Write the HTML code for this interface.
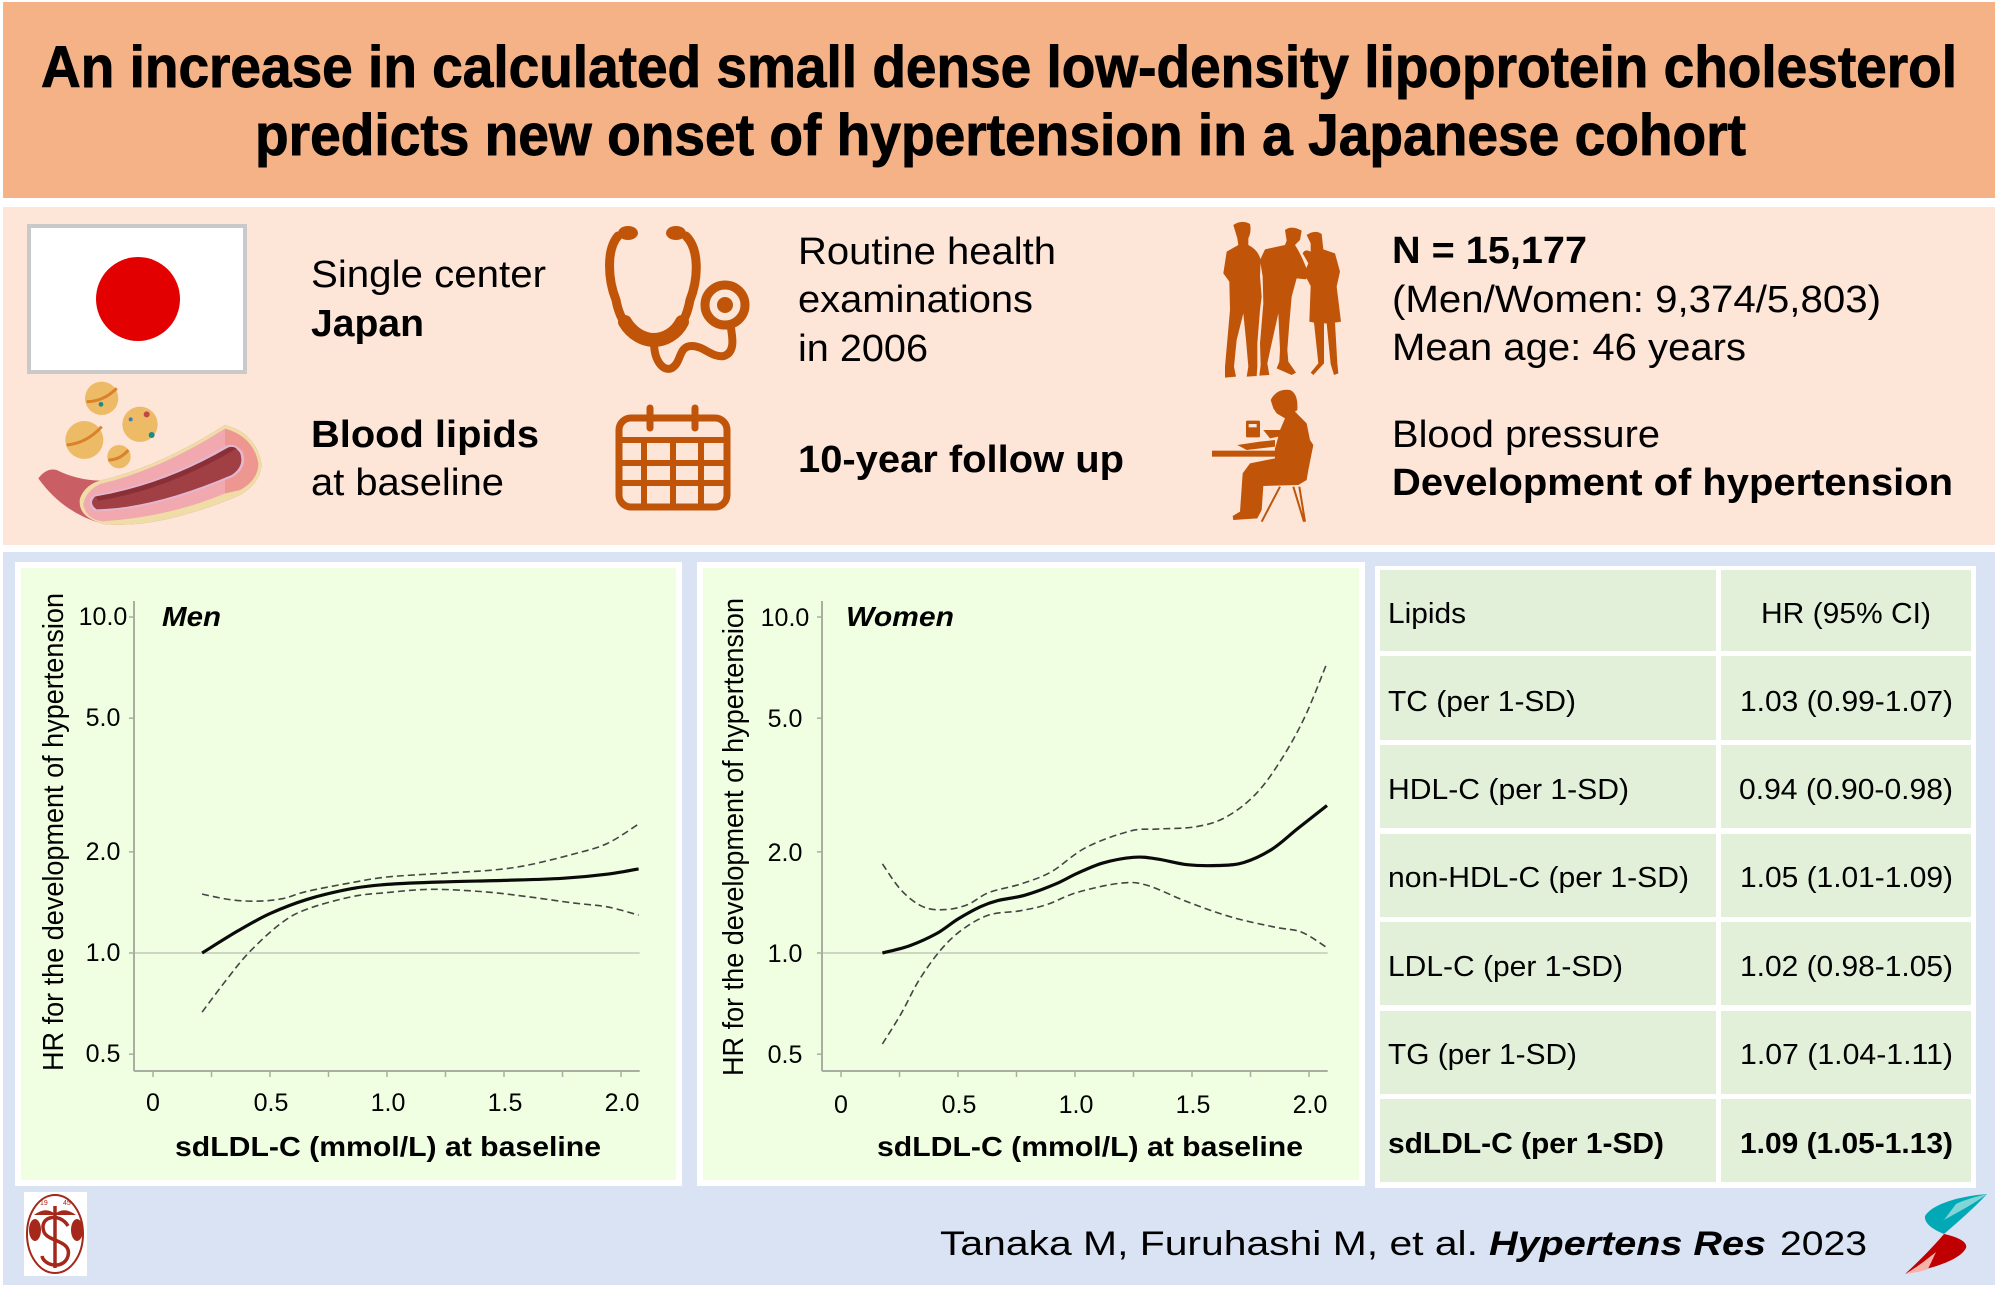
<!DOCTYPE html>
<html lang="en">
<head>
<meta charset="utf-8">
<title>sdLDL-C and new onset of hypertension</title>
<style>
html,body{margin:0;padding:0;background:#fff;width:2000px;height:1290px;overflow:hidden}
svg{display:block}
text{font-family:"Liberation Sans",Arial,sans-serif;fill:#000}
.b{font-weight:700}
.bi{font-weight:700;font-style:italic}
.t{font-weight:700;stroke:#000;stroke-width:.9px}
</style>
</head>
<body>
<svg id="root" xmlns="http://www.w3.org/2000/svg" width="2000" height="1290" viewBox="0 0 2000 1290">
<rect width="2000" height="1290" fill="#fff"/>

<g>
<rect x="3" y="2" width="1992" height="196" fill="#f5b286"/>
<text class="t" x="41" y="87" font-size="58" textLength="1916" lengthAdjust="spacingAndGlyphs">An increase in calculated small dense low-density lipoprotein cholesterol</text>
<text class="t" x="255" y="155" font-size="58" textLength="1491" lengthAdjust="spacingAndGlyphs">predicts new onset of hypertension in a Japanese cohort</text>
</g>

<g>
<rect x="3" y="207" width="1992" height="338" fill="#fde5d8"/>

<g>
<rect x="29" y="226" width="216" height="146" fill="#fff" stroke="#c9c9c9" stroke-width="4"/>
<circle cx="138" cy="299" r="42" fill="#e30000"/>
</g>
<text x="311" y="287" font-size="38" textLength="235" lengthAdjust="spacingAndGlyphs">Single center</text>
<text class="b" x="311" y="336" font-size="38" textLength="113" lengthAdjust="spacingAndGlyphs">Japan</text>

<g fill="none" stroke="#c05509" stroke-linecap="round">
<path stroke-width="9" d="M618 236 C606 250 608 280 616 300 C620 322 632 338 654 340 C676 338 686 322 690 300 C698 280 700 250 686 236"/>
<path stroke-width="14" d="M625 322 C632 334 644 340 654 340 C664 340 676 334 682 322"/>
<ellipse cx="628" cy="233" rx="10" ry="7" fill="#c05509" stroke="none"/>
<ellipse cx="676" cy="233" rx="10" ry="7" fill="#c05509" stroke="none"/>
<path stroke-width="8" d="M654 342 C654 362 664 372 672 368 C682 362 678 346 692 346 C704 346 712 358 724 356 C736 352 732 336 731 328"/>
<circle cx="725" cy="305" r="20" stroke-width="9"/>
<circle cx="725" cy="305" r="8" fill="#c05509" stroke="none"/>
</g>
<text x="798" y="264" font-size="38" textLength="258" lengthAdjust="spacingAndGlyphs">Routine health</text>
<text x="798" y="312" font-size="38" textLength="235" lengthAdjust="spacingAndGlyphs">examinations</text>
<text x="798" y="361" font-size="38" textLength="130" lengthAdjust="spacingAndGlyphs">in 2006</text>

<g fill="#c05509" transform="translate(1180,210) scale(0.33333)">
<path d="M160 45 Q185 28 210 42 Q215 65 205 85 L205 105 Q235 120 242 150 L240 200 L245 260 L240 300 L232 400 L232 470 L230 498 L200 500 L205 470 L198 390 L190 310 L170 390 L162 470 L168 500 L135 503 L135 470 L150 300 L148 215 L130 190 L140 125 L175 105 L172 85 Z"/>
<path d="M315 60 Q335 45 365 62 L360 90 L345 105 Q365 135 385 190 L378 208 L350 205 L335 260 L328 340 L322 420 L325 455 L348 488 L335 495 L290 475 L298 455 L300 420 L295 310 L275 400 L262 460 L268 495 L238 497 L242 465 L240 400 L250 280 L248 200 L240 150 L255 118 L315 105 L320 92 Z"/>
<path d="M380 75 Q405 58 425 72 L430 118 L465 130 L480 185 L470 230 L483 335 L465 338 L472 460 L475 490 L462 495 L452 462 L440 340 L432 340 L432 460 L400 495 L392 488 L415 460 L402 338 L388 335 L392 228 L372 190 L385 160 L368 130 Q375 115 392 125 L392 100 Z"/>
</g>
<text class="b" x="1392" y="263" font-size="38" textLength="195" lengthAdjust="spacingAndGlyphs">N = 15,177</text>
<text x="1392" y="312" font-size="38" textLength="489" lengthAdjust="spacingAndGlyphs">(Men/Women: 9,374/5,803)</text>
<text x="1392" y="360" font-size="38" textLength="354" lengthAdjust="spacingAndGlyphs">Mean age: 46 years</text>

<g transform="translate(20,380) scale(0.33333)">
<path d="M55 295 Q80 262 110 270 Q170 300 240 302 Q420 260 615 135 Q710 160 725 255 Q720 310 660 345 Q560 390 430 420 Q330 440 250 432 Q130 400 55 295 Z" fill="#c95f65"/>
<path d="M240 302 Q420 260 615 135 Q710 160 725 255 Q720 310 660 345 Q560 390 430 420 Q330 440 250 432 Q170 410 180 355 Q195 315 240 302 Z" fill="#f0dca6"/>
<path d="M240 312 Q195 335 190 375 Q200 420 250 424 Q450 410 615 340 L660 330 Q715 300 715 250 Q700 170 615 146 Q420 270 240 312 Z" fill="#f1a8ae"/>
<path d="M615 146 Q700 170 715 250 Q715 300 660 330 L615 340 Z" fill="#ee9690"/>
<path d="M220 345 Q195 370 225 394 Q400 392 640 290 Q685 260 668 215 Q645 185 615 198 Q430 310 220 345 Z" fill="#e3b6cf"/>
<path d="M225 350 Q205 370 230 388 Q400 385 635 285 Q675 258 660 218 Q640 192 620 205 Q430 315 225 350 Z" fill="#a03f44"/>
<path d="M225 350 Q430 315 620 205 Q635 196 650 205 Q440 330 235 362 Z" fill="#8a2f35"/>
<g fill="#edbb66">
<circle cx="245" cy="55" r="50"/>
<circle cx="360" cy="133" r="53"/>
<circle cx="193" cy="180" r="57"/>
<circle cx="297" cy="230" r="35"/>
</g>
<g fill="none" stroke="#d9822b" stroke-width="9">
<path d="M200 65 Q250 65 290 25"/>
<path d="M140 195 Q200 190 245 140"/>
<path d="M265 240 Q300 240 325 210"/>
</g>
<circle cx="380" cy="103" r="9" fill="#c2454a"/>
<circle cx="395" cy="165" r="9" fill="#1e8a84"/>
<circle cx="332" cy="118" r="6" fill="#3b7bbf"/>
<circle cx="243" cy="73" r="7" fill="#1e8a84"/>
</g>
<text class="b" x="311" y="447" font-size="38" textLength="228" lengthAdjust="spacingAndGlyphs">Blood lipids</text>
<text x="311" y="495" font-size="38" textLength="193" lengthAdjust="spacingAndGlyphs">at baseline</text>

<g fill="none" stroke="#c05509">
<rect x="619" y="418" width="108" height="89" rx="12" stroke-width="7"/>
<path stroke-width="6" d="M619 440 H727 M619 463 H727 M619 483 H727 M644 440 V507 M673 440 V507 M701 440 V507"/>
<path stroke-width="7" stroke-linecap="round" d="M650 408 V428 M695 408 V428"/>
</g>
<text class="b" x="798" y="472" font-size="38" textLength="326" lengthAdjust="spacingAndGlyphs">10-year follow up</text>

<g fill="#c05509" transform="translate(1180,210) scale(0.33333)">
<path d="M272 570 Q290 535 330 540 Q355 550 352 600 L345 605 L380 640 L390 690 L400 705 L385 780 L380 810 L355 825 L250 828 L245 900 L232 925 L160 930 L158 918 L180 905 L188 790 L210 760 L285 745 L285 715 L295 680 L270 685 L250 660 L300 660 L315 625 L290 610 L280 595 Z"/>
<rect x="96" y="722" width="192" height="18"/>
<path d="M172 705 L240 695 L285 690 L285 710 L200 720 Z"/>
<rect x="198" y="632" width="42" height="50" rx="4"/>
<rect x="206" y="642" width="24" height="10" fill="#fde5d8"/>
<path d="M300 830 L245 935 M340 830 L372 935 M358 830 L375 935" stroke="#c05509" stroke-width="6" fill="none"/>
</g>
<text x="1392" y="447" font-size="38" textLength="268" lengthAdjust="spacingAndGlyphs">Blood pressure</text>
<text class="b" x="1392" y="495" font-size="38" textLength="561" lengthAdjust="spacingAndGlyphs">Development of hypertension</text>
</g>

<rect x="3" y="552" width="1992" height="733" fill="#dae3f3"/>

<g id="men-chart">
<rect x="18" y="565" width="661" height="618" fill="#f0ffe1" stroke="#fff" stroke-width="6"/>
<text transform="translate(63,1071) rotate(-90)" font-size="29" textLength="478" lengthAdjust="spacingAndGlyphs">HR for the development of hypertension</text>
<text class="b" x="175" y="1156" font-size="28" textLength="426" lengthAdjust="spacingAndGlyphs">sdLDL-C (mmol/L) at baseline</text>
<text class="bi" x="162" y="626" font-size="28" textLength="59" lengthAdjust="spacingAndGlyphs">Men</text>
</g>

<g id="women-chart">
<rect x="700" y="565" width="662" height="618" fill="#f0ffe1" stroke="#fff" stroke-width="6"/>
<text transform="translate(743,1076) rotate(-90)" font-size="29" textLength="478" lengthAdjust="spacingAndGlyphs">HR for the development of hypertension</text>
<text class="b" x="877" y="1156" font-size="28" textLength="426" lengthAdjust="spacingAndGlyphs">sdLDL-C (mmol/L) at baseline</text>
<text class="bi" x="846" y="626" font-size="28" textLength="108" lengthAdjust="spacingAndGlyphs">Women</text>
</g>

<g>
<rect x="1375" y="566" width="601" height="622" fill="#fff"/>
<g fill="#e2f0d9">
<rect x="1380" y="570" width="336" height="81"/><rect x="1721" y="570" width="250" height="81"/>
<rect x="1380" y="656" width="336" height="84"/><rect x="1721" y="656" width="250" height="84"/>
<rect x="1380" y="745" width="336" height="83"/><rect x="1721" y="745" width="250" height="83"/>
<rect x="1380" y="834" width="336" height="83"/><rect x="1721" y="834" width="250" height="83"/>
<rect x="1380" y="922" width="336" height="83"/><rect x="1721" y="922" width="250" height="83"/>
<rect x="1380" y="1011" width="336" height="83"/><rect x="1721" y="1011" width="250" height="83"/>
<rect x="1380" y="1099" width="336" height="83"/><rect x="1721" y="1099" width="250" height="83"/>
</g>
<text x="1388" y="623" font-size="29" textLength="78" lengthAdjust="spacingAndGlyphs">Lipids</text>
<text x="1761" y="623" font-size="29" textLength="170" lengthAdjust="spacingAndGlyphs">HR (95% CI)</text>
<text x="1388" y="711" font-size="29" textLength="188" lengthAdjust="spacingAndGlyphs">TC (per 1-SD)</text>
<text x="1740" y="711" font-size="29" textLength="213" lengthAdjust="spacingAndGlyphs">1.03 (0.99-1.07)</text>
<text x="1388" y="799" font-size="29" textLength="241" lengthAdjust="spacingAndGlyphs">HDL-C (per 1-SD)</text>
<text x="1739" y="799" font-size="29" textLength="214" lengthAdjust="spacingAndGlyphs">0.94 (0.90-0.98)</text>
<text x="1388" y="887" font-size="29" textLength="301" lengthAdjust="spacingAndGlyphs">non-HDL-C (per 1-SD)</text>
<text x="1740" y="887" font-size="29" textLength="213" lengthAdjust="spacingAndGlyphs">1.05 (1.01-1.09)</text>
<text x="1388" y="976" font-size="29" textLength="235" lengthAdjust="spacingAndGlyphs">LDL-C (per 1-SD)</text>
<text x="1740" y="976" font-size="29" textLength="213" lengthAdjust="spacingAndGlyphs">1.02 (0.98-1.05)</text>
<text x="1388" y="1064" font-size="29" textLength="189" lengthAdjust="spacingAndGlyphs">TG (per 1-SD)</text>
<text x="1740" y="1064" font-size="29" textLength="213" lengthAdjust="spacingAndGlyphs">1.07 (1.04-1.11)</text>
<text class="b" x="1388" y="1153" font-size="29" textLength="276" lengthAdjust="spacingAndGlyphs">sdLDL-C (per 1-SD)</text>
<text class="b" x="1740" y="1153" font-size="29" textLength="213" lengthAdjust="spacingAndGlyphs">1.09 (1.05-1.13)</text>
</g>

<g>
<rect x="24" y="1192" width="63" height="84" fill="#fff"/>
<ellipse cx="55" cy="1234" rx="28" ry="39" fill="none" stroke="#a5281a" stroke-width="2"/>
<path d="M34 1215 Q46 1206 55 1214 Q64 1206 76 1215 Z" fill="#a5281a"/>
<path d="M68 1226 C60 1212 38 1216 44 1232 C48 1242 72 1240 68 1256 C64 1270 44 1266 42 1256" fill="none" stroke="#a5281a" stroke-width="3.5"/>
<path d="M55 1206 V1268" stroke="#a5281a" stroke-width="3.5"/>
<ellipse cx="35" cy="1230" rx="6" ry="11" fill="#a5281a"/>
<ellipse cx="77" cy="1230" rx="6" ry="11" fill="#a5281a"/>
<text x="40" y="1205" font-size="7" style="fill:#a5281a">19</text>
<text x="63" y="1205" font-size="7" style="fill:#a5281a">45</text>
</g>

<g>
<text x="940" y="1255" font-size="34" textLength="538" lengthAdjust="spacingAndGlyphs">Tanaka M, Furuhashi M, et al.</text>
<text class="bi" x="1489" y="1255" font-size="34" textLength="277" lengthAdjust="spacingAndGlyphs">Hypertens Res</text>
<text x="1780" y="1255" font-size="34" textLength="87" lengthAdjust="spacingAndGlyphs">2023</text>
</g>

<g>
<path d="M1987 1194 C1960 1196 1932 1204 1925 1216 C1924 1224 1934 1230 1944 1234 C1958 1222 1974 1208 1987 1194 Z" fill="#00a9b5"/>
<path d="M1944 1234 C1958 1237 1968 1242 1966 1248 C1960 1260 1934 1268 1905 1274 C1918 1262 1932 1248 1944 1234 Z" fill="#c00000"/>
<path d="M1987 1194 C1975 1197 1964 1200 1956 1204 L1944 1220 C1958 1212 1974 1204 1987 1194 Z" fill="#9fe0e0" opacity=".8"/>
<path d="M1905 1274 C1912 1273 1920 1272 1928 1269 L1936 1252 C1926 1260 1916 1268 1905 1274 Z" fill="#f5b3aa"/>
</g>
</svg>

<script>
const SVG_NS = 'http://www.w3.org/2000/svg';

const xTickValues = [0, 0.5, 1, 1.5, 2];
const xTickLabels = ['0', '0.5', '1.0', '1.5', '2.0'];
const xMinorTickValues = [0.25, 0.75, 1.25, 1.75];
const yTickValues = [10, 5, 2, 1, 0.5];
const yTickLabels = ['10.0', '5.0', '2.0', '1.0', '0.5'];
const xMaxValue = [2.08];

const menHrX = [0.21, 0.36, 0.5, 0.66, 0.85, 1.0, 1.23, 1.5, 1.75, 1.94, 2.075];
const menHr = [1.0, 1.16, 1.31, 1.445, 1.555, 1.6, 1.627, 1.645, 1.668, 1.716, 1.78];
const menUpperX = [0.21, 0.325, 0.44, 0.55, 0.66, 0.85, 1.0, 1.23, 1.45, 1.6, 1.79, 1.94, 2.075];
const menUpper = [1.497, 1.443, 1.426, 1.45, 1.526, 1.62, 1.683, 1.726, 1.765, 1.825, 1.964, 2.116, 2.42];
const menLowerX = [0.21, 0.325, 0.42, 0.55, 0.66, 0.85, 1.0, 1.19, 1.41, 1.6, 1.79, 1.94, 2.075];
const menLower = [0.667, 0.852, 1.02, 1.23, 1.352, 1.471, 1.513, 1.547, 1.522, 1.471, 1.411, 1.372, 1.297];

const womenHrX = [0.177, 0.295, 0.41, 0.5, 0.596, 0.67, 0.784, 0.915, 1.01, 1.12, 1.25, 1.35, 1.48, 1.61, 1.72, 1.84, 1.95, 2.077];
const womenHr = [1.0, 1.052, 1.144, 1.262, 1.373, 1.432, 1.485, 1.602, 1.727, 1.854, 1.927, 1.906, 1.832, 1.822, 1.858, 2.033, 2.34, 2.747];
const womenUpperX = [0.177, 0.258, 0.35, 0.445, 0.54, 0.633, 0.765, 0.897, 1.047, 1.235, 1.348, 1.517, 1.648, 1.78, 1.893, 1.987, 2.077];
const womenUpper = [1.842, 1.536, 1.373, 1.346, 1.392, 1.515, 1.602, 1.742, 2.061, 2.306, 2.338, 2.376, 2.544, 3.01, 3.88, 5.13, 7.3];
const womenLowerX = [0.177, 0.258, 0.333, 0.427, 0.52, 0.633, 0.765, 0.878, 1.01, 1.197, 1.31, 1.48, 1.667, 1.855, 1.968, 2.077];
const womenLower = [0.536, 0.662, 0.829, 1.023, 1.176, 1.298, 1.335, 1.392, 1.515, 1.615, 1.589, 1.42, 1.28, 1.193, 1.154, 1.037];

function makeXScale(origin) {
  return function (v) { return origin + 234 * v; };
}
function makeYScale() {
  return function (v) { return 953 - 336 * Math.log10(v); };
}
function smoothPath(xs, ys, sx, sy) {
  const p = xs.map(function (x, i) { return [sx(x), sy(ys[i])]; });
  let d = 'M' + p[0][0].toFixed(1) + ' ' + p[0][1].toFixed(1);
  for (let i = 0; i < p.length - 1; i++) {
    const a = p[Math.max(0, i - 1)], b = p[i], c = p[i + 1], e = p[Math.min(p.length - 1, i + 2)];
    d += ' C' + (b[0] + (c[0] - a[0]) / 6).toFixed(1) + ' ' + (b[1] + (c[1] - a[1]) / 6).toFixed(1) +
      ' ' + (c[0] - (e[0] - b[0]) / 6).toFixed(1) + ' ' + (c[1] - (e[1] - b[1]) / 6).toFixed(1) +
      ' ' + c[0].toFixed(1) + ' ' + c[1].toFixed(1);
  }
  return d;
}
function addLine(parent, x1, y1, x2, y2, color, width) {
  const el = document.createElementNS(SVG_NS, 'line');
  el.setAttribute('x1', x1);
  el.setAttribute('y1', y1);
  el.setAttribute('x2', x2);
  el.setAttribute('y2', y2);
  el.setAttribute('stroke', color);
  el.setAttribute('stroke-width', width);
  parent.appendChild(el);
  return el;
}
function addLabel(parent, x, y, str) {
  const el = document.createElementNS(SVG_NS, 'text');
  el.setAttribute('x', x);
  el.setAttribute('y', y);
  el.setAttribute('text-anchor', 'middle');
  el.setAttribute('font-size', '25');
  el.textContent = str;
  parent.appendChild(el);
  return el;
}
function addCurve(parent, d, dashed) {
  const el = document.createElementNS(SVG_NS, 'path');
  el.setAttribute('d', d);
  el.setAttribute('fill', 'none');
  el.setAttribute('stroke', dashed ? '#444' : '#0a0a0a');
  el.setAttribute('stroke-width', dashed ? '1.6' : '3.2');
  if (dashed) el.setAttribute('stroke-dasharray', '7 4');
  parent.appendChild(el);
  return el;
}
function drawChart(groupId, prefix, axisX, xOrigin, yLabelX, yLabelShift, xLabelY, series) {
  const group = document.getElementById(groupId);
  const sx = makeXScale(xOrigin);
  const sy = makeYScale();
  const right = sx(xMaxValue[0]);
  const ref = addLine(group, axisX, sy(1), right, sy(1), '#c4cabb', 1.5);
  
  
  const yAxis = addLine(group, axisX, 601, axisX, 1071, '#a9ada2', 2);
  
  
  const xAxis = addLine(group, axisX, 1071, right, 1071, '#a9ada2', 2);
  
  
  yTickValues.forEach(function (v, i) {
    const tick = addLine(group, axisX - 5, sy(v), axisX, sy(v), '#a9ada2', 1.5);
    
    
    const label = addLabel(group, yLabelX, sy(v) + yLabelShift, yTickLabels[i]);
    
    
  });
  xTickValues.forEach(function (v, i) {
    const tick = addLine(group, sx(v), 1071, sx(v), 1077, '#a9ada2', 1.5);
    
    
    const label = addLabel(group, sx(v) + (i ? 1 : 0), xLabelY, xTickLabels[i]);
    
    
  });
  xMinorTickValues.forEach(function (v) {
    const tick = addLine(group, sx(v), 1071, sx(v), 1077, '#a9ada2', 1.5);
    
    
  });
  const upper = addCurve(group, smoothPath(series.upperX, series.upper, sx, sy), true);
  
  
  const lower = addCurve(group, smoothPath(series.lowerX, series.lower, sx, sy), true);
  
  
  const hr = addCurve(group, smoothPath(series.hrX, series.hr, sx, sy), false);
  
  
}
drawChart('men-chart', 'men', 134, 153, 103, 8, 1111, {
  hrX: menHrX, hr: menHr, upperX: menUpperX, upper: menUpper, lowerX: menLowerX, lower: menLower
});
drawChart('women-chart', 'women', 822, 841, 785, 9, 1113, {
  hrX: womenHrX, hr: womenHr, upperX: womenUpperX, upper: womenUpper, lowerX: womenLowerX, lower: womenLower
});
</script>
</body>
</html>
